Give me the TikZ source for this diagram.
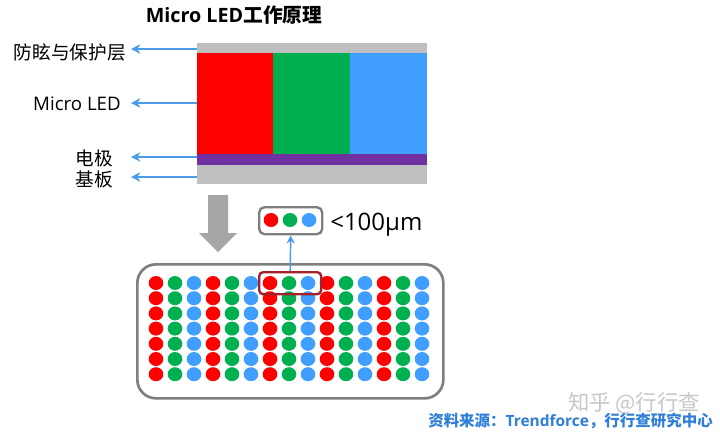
\documentclass[tikz,border=0pt]{standalone}
\usepackage{fontspec}
\setmainfont{Open Sans}
\newfontfamily\cjk{Noto Sans CJK SC}
\usetikzlibrary{arrows.meta}
\definecolor{ledred}{HTML}{FF0000}
\definecolor{ledgreen}{HTML}{00B050}
\definecolor{ledblue}{HTML}{409EFF}
\definecolor{ledpurple}{HTML}{7030A0}
\definecolor{layergray}{HTML}{BFBFBF}
\definecolor{bigarrow}{HTML}{A6A6A6}
\definecolor{boxgray}{HTML}{7F7F7F}
\definecolor{boxred}{HTML}{A5202A}
\definecolor{arrblue}{HTML}{4A9BEA}
\definecolor{srcblue}{HTML}{2F7ED8}
\tikzset{
  layer/.style={inner sep=0pt, outer sep=0pt, draw=none},
  lbl/.style={anchor=east, inner sep=0pt, font=\fontsize{14}{16}\selectfont},
  lblarrow/.style={draw=arrblue, line width=1.1pt, -{Stealth[length=7pt,width=7pt]}},
  dot/.style={inner sep=0pt}
}
\begin{document}
\begin{tikzpicture}[x=0.75pt,y=-0.75pt]
\useasboundingbox (0,0) rectangle (720,433);
\fill[white] (0,0) rectangle (720,433);
% title
\node[inner sep=0pt] (title) at (234,15) {\fontsize{14.8}{17}\selectfont\bfseries Micro LED{\cjk\bfseries 工作原理}};
% layers
\node[layer, fill=layergray, minimum width=230*0.75pt, minimum height=10*0.75pt, anchor=north west] (top) at (197,43) {};
\node[layer, fill=ledred, minimum width=76*0.75pt, minimum height=101*0.75pt, anchor=north west] (red) at (197,53) {};
\node[layer, fill=ledgreen, minimum width=77*0.75pt, minimum height=101*0.75pt, anchor=north west] (green) at (273,53) {};
\node[layer, fill=ledblue, minimum width=77*0.75pt, minimum height=101*0.75pt, anchor=north west] (blue) at (350,53) {};
\node[layer, fill=ledpurple, minimum width=230*0.75pt, minimum height=11*0.75pt, anchor=north west] (elec) at (197,154) {};
\node[layer, fill=layergray, minimum width=230*0.75pt, minimum height=19*0.75pt, anchor=north west] (sub) at (197,165) {};
% labels
\node[lbl] (l1) at (126,52) {\cjk 防眩与保护层};
\node[lbl] (l2) at (121,104) {Micro LED};
\node[lbl] (l3) at (113,158) {\cjk 电极};
\node[lbl] (l4) at (113,179) {\cjk 基板};
\coordinate (t1) at (131,49);
\coordinate (t2) at (131,103);
\coordinate (t3) at (131,157);
\coordinate (t4) at (131,177);
\draw[lblarrow] (top.west |- t1) -- (t1);
\draw[lblarrow] (red.west |- t2) -- (t2);
\draw[lblarrow] (elec.west |- t3) -- (t3);
\draw[lblarrow] (sub.west |- t4) -- (t4);
% big down arrow
\fill[bigarrow] (208,195) -- (228,195) -- (228,233) -- (237,233) -- (218,252) -- (199,233) -- (208,233) -- cycle;
% big panel
\node[draw=boxgray, line width=2pt, rounded corners=14pt, minimum width=306*0.75pt, minimum height=134*0.75pt, anchor=north west, inner sep=0pt] (panel) at (136,263) {};
\foreach \i in {0,...,14}{
  \pgfmathtruncatemacro{\m}{mod(\i,3)}
  \ifcase\m \def\dc{ledred}\or \def\dc{ledgreen}\or \def\dc{ledblue}\fi
  \foreach \j in {0,...,6}{
    \fill[\dc] ({156+19*\i},{283+15.2*\j}) ellipse [x radius=7.3, y radius=7];
  }
}
% highlight
\node[draw=boxred, line width=1.8pt, rounded corners=3pt, minimum width=62*0.75pt, minimum height=22*0.75pt, anchor=north west, inner sep=0pt] (hl) at (258,271) {};
% zoom box
\node[draw=boxgray, line width=1.8pt, rounded corners=4pt, minimum width=63*0.75pt, minimum height=27*0.75pt, anchor=north west, inner sep=0pt] (zoom) at (258,206) {};
\fill[ledred] (271,220) ellipse [x radius=7.3, y radius=7];
\fill[ledgreen] (290,220) ellipse [x radius=7.3, y radius=7];
\fill[ledblue] (309,220) ellipse [x radius=7.3, y radius=7];
\draw[draw=arrblue, line width=1.1pt, -{Stealth[length=6pt,width=6pt]}] (hl.north) -- (zoom.south);
\node[anchor=west, inner sep=0pt] (size) at (330,225) {\fontsize{18}{22}\selectfont <100μm};
% watermark
\node[anchor=west, inner sep=0pt, text=black!22] (wm) at (568,403) {\fontsize{16}{18}\selectfont\cjk 知乎 @行行查};
% source
\node[anchor=east, inner sep=0pt, text=srcblue] (src) at (713,421) {\fontsize{11.6}{13}\selectfont\bfseries{\cjk\bfseries 资料来源：}Trendforce{\cjk\bfseries ，行行查研究中心}};
\end{tikzpicture}
\end{document}
